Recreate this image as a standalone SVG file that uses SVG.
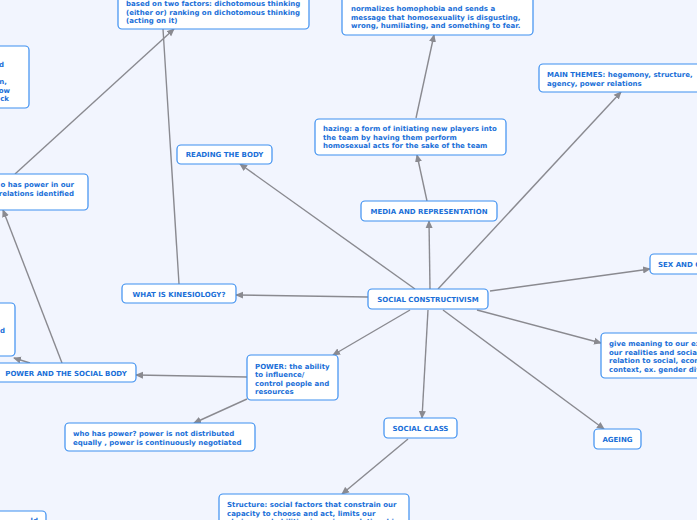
<svg xmlns="http://www.w3.org/2000/svg" width="697" height="520" viewBox="0 0 697 520">
<style>
.n rect{fill:#fff;stroke:#3c8ff0;stroke-width:1.2}
.n text{font-family:"DejaVu Sans",Verdana,sans-serif;font-size:7px;font-weight:bold;fill:#1a6fd8}
.c line{stroke:#8a8a90;stroke-width:1.4;marker-end:url(#a)}
</style>
<defs><marker id="a" markerWidth="8" markerHeight="8" refX="7" refY="4" orient="auto" markerUnits="userSpaceOnUse"><path d="M0,0.5 L8,4 L0,7.5z" fill="#8a8a90"/></marker></defs>
<rect width="697" height="520" fill="#f2f5fe"/>
<g class="c">
<line x1="415" y1="289" x2="240" y2="164"/>
<line x1="430" y1="289" x2="429" y2="221"/>
<line x1="438" y1="289" x2="621" y2="92"/>
<line x1="490" y1="291" x2="650" y2="269"/>
<line x1="477" y1="310" x2="601" y2="343"/>
<line x1="443" y1="310" x2="604" y2="429"/>
<line x1="428" y1="310" x2="422" y2="418"/>
<line x1="410" y1="310" x2="333" y2="355"/>
<line x1="368" y1="297" x2="236" y2="295"/>
<line x1="179" y1="284" x2="163" y2="29" style="marker-end:none"/>
<line x1="15" y1="174" x2="174" y2="29"/>
<line x1="62" y1="363" x2="3" y2="210"/>
<line x1="30" y1="363" x2="14" y2="358"/>
<line x1="247" y1="377" x2="136" y2="375"/>
<line x1="247" y1="399" x2="194" y2="423"/>
<line x1="427" y1="201" x2="417" y2="155"/>
<line x1="416" y1="118" x2="434" y2="35"/>
<line x1="408" y1="439" x2="342" y2="494"/>
</g>
<g class="n" id="n-factors"><rect x="118" y="-10" width="191" height="39" rx="4"/><text x="126" y="6">based on two factors: dichotomous thinking</text><text x="126" y="14.5">(either or) ranking on dichotomous thinking</text><text x="126" y="23">(acting on it)</text></g>
<g class="n" id="n-left1"><rect x="-10" y="46" width="39" height="62" rx="4"/><text x="4" y="67" text-anchor="end">d</text><text x="7" y="84" text-anchor="end">n,</text><text x="10" y="92.5" text-anchor="end">ow</text><text x="9" y="101" text-anchor="end">ck</text></g>
<g class="n" id="n-homophobia"><rect x="342" y="-6" width="191" height="41" rx="4"/><text x="351" y="11">normalizes homophobia and sends a</text><text x="351" y="19.5">message that homosexuality is disgusting,</text><text x="351" y="28">wrong, humiliating, and something to fear.</text></g>
<g class="n" id="n-themes"><rect x="539" y="64" width="170" height="28" rx="4"/><text x="547" y="77">MAIN THEMES: hegemony, structure,</text><text x="547" y="85.5">agency, power relations</text></g>
<g class="n" id="n-reading"><rect x="177" y="145" width="95" height="19" rx="4"/><text x="224.5" y="157" text-anchor="middle">READING THE BODY</text></g>
<g class="n" id="n-hazing"><rect x="315" y="119" width="191" height="36" rx="4"/><text x="323" y="131">hazing: a form of initiating new players into</text><text x="323" y="139.5">the team by having them perform</text><text x="323" y="148">homosexual acts for the sake of the team</text></g>
<g class="n" id="n-media"><rect x="361" y="201" width="136" height="20" rx="4"/><text x="429" y="213.5" text-anchor="middle">MEDIA AND REPRESENTATION</text></g>
<g class="n" id="n-whopower"><rect x="-10" y="174" width="98" height="36" rx="4"/><text x="74" y="187" text-anchor="end">o has power in our</text><text x="74" y="195.5" text-anchor="end">relations identified</text></g>
<g class="n" id="n-sex"><rect x="650" y="254" width="60" height="20" rx="4"/><text x="658" y="266.5">SEX AND G</text></g>
<g class="n" id="n-kin"><rect x="122" y="284" width="114" height="19" rx="4"/><text x="179" y="296.5" text-anchor="middle">WHAT IS KINESIOLOGY?</text></g>
<g class="n" id="n-sc"><rect x="368" y="289" width="120" height="20" rx="4"/><text x="428" y="301.5" text-anchor="middle">SOCIAL CONSTRUCTIVISM</text></g>
<g class="n" id="n-left2"><rect x="-10" y="303" width="25" height="53" rx="4"/><text x="5" y="333" text-anchor="end">d</text></g>
<g class="n" id="n-pasb"><rect x="-5" y="363" width="141" height="19" rx="4"/><text x="66" y="375.5" text-anchor="middle">POWER AND THE SOCIAL BODY</text></g>
<g class="n" id="n-power"><rect x="247" y="355" width="91" height="45" rx="4"/><text x="255" y="368.5">POWER: the ability</text><text x="255" y="377">to influence/</text><text x="255" y="385.5">control people and</text><text x="255" y="394">resources</text></g>
<g class="n" id="n-meaning"><rect x="601" y="333" width="110" height="45" rx="4"/><text x="609" y="346">give meaning to our exp</text><text x="609" y="354.5">our realities and social</text><text x="609" y="363">relation to social, econ</text><text x="609" y="371.5">context, ex. gender divi</text></g>
<g class="n" id="n-distrib"><rect x="65" y="423" width="190" height="28" rx="4"/><text x="73" y="436">who has power? power is not distributed</text><text x="73" y="444.5">equally , power is continuously negotiated</text></g>
<g class="n" id="n-class"><rect x="384" y="418" width="73" height="20" rx="4"/><text x="420.5" y="430.5" text-anchor="middle">SOCIAL CLASS</text></g>
<g class="n" id="n-ageing"><rect x="594" y="429" width="47" height="20" rx="4"/><text x="617.5" y="441.5" text-anchor="middle">AGEING</text></g>
<g class="n" id="n-structure"><rect x="219" y="494" width="190" height="36" rx="4"/><text x="227" y="507">Structure: social factors that constrain our</text><text x="227" y="515.5">capacity to choose and act, limits our</text><text x="227" y="524">choices and abilities in various relationships</text></g>
<g class="n" id="n-left3"><rect x="-10" y="511" width="56" height="20" rx="4"/><text x="38" y="523" text-anchor="end">ld</text></g>
</svg>
